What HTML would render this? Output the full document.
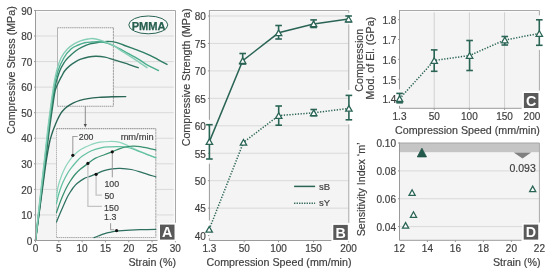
<!DOCTYPE html>
<html><head><meta charset="utf-8"><style>
html,body{margin:0;padding:0;background:#fff;width:550px;height:274px;overflow:hidden}
svg{display:block;will-change:transform}
text{font-family:"Liberation Sans",sans-serif}
text.t{stroke:#404040;stroke-width:0.18px}
</style></head><body>
<svg width="550" height="274" viewBox="0 0 550 274">
<rect width="550" height="274" fill="#fff"/>
<rect x="35.5" y="10.5" width="140.0" height="230.0" fill="#f4f4f4" />
<line x1="35.5" y1="214.94" x2="175.5" y2="214.94" stroke="#d9d9d9" stroke-width="1" />
<line x1="35.5" y1="189.38" x2="175.5" y2="189.38" stroke="#d9d9d9" stroke-width="1" />
<line x1="35.5" y1="163.82" x2="175.5" y2="163.82" stroke="#d9d9d9" stroke-width="1" />
<line x1="35.5" y1="138.26" x2="175.5" y2="138.26" stroke="#d9d9d9" stroke-width="1" />
<line x1="35.5" y1="112.7" x2="175.5" y2="112.7" stroke="#d9d9d9" stroke-width="1" />
<line x1="35.5" y1="87.13999999999999" x2="175.5" y2="87.13999999999999" stroke="#d9d9d9" stroke-width="1" />
<line x1="35.5" y1="61.579999999999984" x2="175.5" y2="61.579999999999984" stroke="#d9d9d9" stroke-width="1" />
<line x1="35.5" y1="36.01999999999998" x2="175.5" y2="36.01999999999998" stroke="#d9d9d9" stroke-width="1" />
<line x1="36.0" y1="11.7" x2="174.5" y2="11.7" stroke="#fbfbfb" stroke-width="1.2" />
<line x1="174.3" y1="11.5" x2="174.3" y2="222.5" stroke="#fbfbfb" stroke-width="1.2" />
<line x1="35.5" y1="10.5" x2="175.5" y2="10.5" stroke="#a8a8a8" stroke-width="1" />
<line x1="175.5" y1="10.5" x2="175.5" y2="222.8" stroke="#a8a8a8" stroke-width="1" />
<rect x="57.5" y="27.8" width="55.900000000000006" height="78.4" fill="#f7f7f7" />
<line x1="57.5" y1="27.8" x2="113.4" y2="27.8" stroke="#9c9c9c" stroke-width="1.1" stroke-dasharray="1.5,0.6"/>
<line x1="57.5" y1="106.2" x2="113.4" y2="106.2" stroke="#9c9c9c" stroke-width="1.1" stroke-dasharray="1.5,0.6"/>
<line x1="57.5" y1="27.8" x2="57.5" y2="106.2" stroke="#b4b4b4" stroke-width="1.0" />
<line x1="113.4" y1="27.8" x2="113.4" y2="106.2" stroke="#a0a0a0" stroke-width="1.0" stroke-dasharray="2.5,0.5"/>
<rect x="56.5" y="128.6" width="99.30000000000001" height="108.9" fill="#f8f8f8" />
<line x1="56.5" y1="128.6" x2="155.8" y2="128.6" stroke="#9c9c9c" stroke-width="1.1" stroke-dasharray="1.5,0.6"/>
<line x1="56.5" y1="237.5" x2="155.8" y2="237.5" stroke="#a8a8a8" stroke-width="1.0" stroke-dasharray="1.5,0.6"/>
<line x1="56.5" y1="128.6" x2="56.5" y2="237.5" stroke="#b4b4b4" stroke-width="1.0" stroke-dasharray="1.5,0.6"/>
<line x1="155.8" y1="128.6" x2="155.8" y2="237.5" stroke="#a8a8a8" stroke-width="1.0" stroke-dasharray="2.5,0.5"/>
<line x1="85.3" y1="106.3" x2="85.3" y2="124.5" stroke="#808080" stroke-width="0.9" />
<polygon points="83.7,124 86.9,124 85.3,127.6" fill="#505050"/>
<path d="M35.50,240.50 C36.52,232.92 39.78,208.42 41.60,195.00 C43.42,181.58 45.07,168.83 46.40,160.00 C47.73,151.17 48.63,146.50 49.60,142.00 C50.57,137.50 51.40,135.50 52.20,133.00 C53.00,130.50 53.55,129.17 54.40,127.00 C55.25,124.83 56.23,122.28 57.30,120.00 C58.37,117.72 59.68,115.05 60.80,113.30 C61.92,111.55 62.93,110.62 64.00,109.50 C65.07,108.38 65.62,107.70 67.20,106.60 C68.78,105.50 71.38,103.93 73.50,102.90 C75.62,101.87 77.48,101.12 79.90,100.40 C82.32,99.68 84.85,99.10 88.00,98.60 C91.15,98.10 94.80,97.70 98.80,97.40 C102.80,97.10 107.52,96.93 112.00,96.80 C116.48,96.67 123.42,96.63 125.70,96.60" fill="none" stroke="#2a6656" stroke-width="1.4" stroke-linecap="round" stroke-linejoin="round" />
<path d="M35.50,240.50 C36.47,232.92 39.63,208.42 41.30,195.00 C42.97,181.58 44.05,171.67 45.50,160.00 C46.95,148.33 48.78,134.08 50.00,125.00 C51.22,115.92 51.92,111.33 52.80,105.50 C53.68,99.67 54.32,93.92 55.30,90.00 C56.28,86.08 57.62,84.33 58.70,82.00 C59.78,79.67 60.78,77.87 61.80,76.00 C62.82,74.13 63.45,72.53 64.80,70.80 C66.15,69.07 68.13,67.08 69.90,65.60 C71.67,64.12 73.58,62.97 75.40,61.90 C77.22,60.83 78.62,60.02 80.80,59.20 C82.98,58.38 85.97,57.48 88.50,57.00 C91.03,56.52 93.25,56.28 96.00,56.30 C98.75,56.32 102.00,56.52 105.00,57.10 C108.00,57.68 110.67,58.78 114.00,59.80 C117.33,60.82 120.97,61.88 125.00,63.20 C129.03,64.52 136.00,66.95 138.20,67.70" fill="none" stroke="#2d705d" stroke-width="1.4" stroke-linecap="round" stroke-linejoin="round" />
<path d="M35.50,240.50 C36.42,232.92 39.38,208.42 41.00,195.00 C42.62,181.58 43.82,171.67 45.20,160.00 C46.58,148.33 47.78,136.67 49.30,125.00 C50.82,113.33 52.63,98.83 54.30,90.00 C55.97,81.17 57.60,76.67 59.30,72.00 C61.00,67.33 62.92,64.50 64.50,62.00 C66.08,59.50 66.95,58.83 68.80,57.00 C70.65,55.17 73.40,52.63 75.60,51.00 C77.80,49.37 79.60,48.38 82.00,47.20 C84.40,46.02 87.22,44.72 90.00,43.90 C92.78,43.08 95.73,42.72 98.70,42.30 C101.67,41.88 104.77,41.35 107.80,41.40 C110.83,41.45 114.10,41.92 116.90,42.60 C119.70,43.28 122.08,44.57 124.60,45.50 C127.12,46.43 129.57,47.30 132.00,48.20 C134.43,49.10 136.20,49.70 139.20,50.90 C142.20,52.10 146.87,53.95 150.00,55.40 C153.13,56.85 155.17,58.10 158.00,59.60 C160.83,61.10 165.50,63.60 167.00,64.40" fill="none" stroke="#2e7d65" stroke-width="1.4" stroke-linecap="round" stroke-linejoin="round" />
<path d="M35.50,240.50 C36.37,232.92 39.15,208.42 40.70,195.00 C42.25,181.58 43.45,171.67 44.80,160.00 C46.15,148.33 47.33,136.67 48.80,125.00 C50.27,113.33 52.13,98.83 53.60,90.00 C55.07,81.17 55.90,77.33 57.60,72.00 C59.30,66.67 61.57,61.83 63.80,58.00 C66.03,54.17 68.58,51.17 71.00,49.00 C73.42,46.83 76.00,46.05 78.30,45.00 C80.60,43.95 82.52,43.20 84.80,42.70 C87.08,42.20 89.68,42.15 92.00,42.00 C94.32,41.85 96.07,41.58 98.70,41.80 C101.33,42.02 104.77,42.38 107.80,43.30 C110.83,44.22 114.37,46.08 116.90,47.30 C119.43,48.52 120.98,49.52 123.00,50.60 C125.02,51.68 127.08,52.75 129.00,53.80 C130.92,54.85 132.68,55.83 134.50,56.90 C136.32,57.97 138.08,59.05 139.90,60.20 C141.72,61.35 143.38,62.60 145.40,63.80 C147.42,65.00 149.82,66.28 152.00,67.40 C154.18,68.52 157.42,69.98 158.50,70.50" fill="none" stroke="#4cae8f" stroke-width="1.4" stroke-linecap="round" stroke-linejoin="round" />
<path d="M35.50,240.50 C36.32,232.92 38.92,208.42 40.40,195.00 C41.88,181.58 43.08,171.67 44.40,160.00 C45.72,148.33 46.87,136.67 48.30,125.00 C49.73,113.33 51.65,98.83 53.00,90.00 C54.35,81.17 55.07,77.33 56.40,72.00 C57.73,66.67 59.17,61.83 61.00,58.00 C62.83,54.17 65.15,51.40 67.40,49.00 C69.65,46.60 72.20,45.00 74.50,43.60 C76.80,42.20 78.95,41.37 81.20,40.60 C83.45,39.83 85.85,39.32 88.00,39.00 C90.15,38.68 91.57,38.33 94.10,38.70 C96.63,39.07 100.15,40.18 103.20,41.20 C106.25,42.22 109.93,43.57 112.40,44.80 C114.87,46.03 116.15,47.37 118.00,48.60 C119.85,49.83 121.67,51.03 123.50,52.20 C125.33,53.37 127.17,54.45 129.00,55.60 C130.83,56.75 132.68,57.90 134.50,59.10 C136.32,60.30 137.82,61.37 139.90,62.80 C141.98,64.23 145.82,66.88 147.00,67.70" fill="none" stroke="#86ceb6" stroke-width="1.4" stroke-linecap="round" stroke-linejoin="round" />
<path d="M56.50,197.00 C56.72,195.50 57.22,190.83 57.80,188.00 C58.38,185.17 59.05,182.83 60.00,180.00 C60.95,177.17 62.25,173.75 63.50,171.00 C64.75,168.25 65.88,166.03 67.50,163.50 C69.12,160.97 71.12,158.05 73.20,155.80 C75.28,153.55 77.87,151.50 80.00,150.00 C82.13,148.50 84.08,147.72 86.00,146.80 C87.92,145.88 89.17,145.27 91.50,144.50 C93.83,143.73 96.92,142.70 100.00,142.20 C103.08,141.70 106.82,141.52 110.00,141.50 C113.18,141.48 116.07,141.38 119.10,142.10 C122.13,142.82 125.15,144.43 128.20,145.80 C131.25,147.17 134.35,148.93 137.40,150.30 C140.45,151.67 143.43,152.70 146.50,154.00 C149.57,155.30 154.25,157.42 155.80,158.10" fill="none" stroke="#8ed5bd" stroke-width="1.25" stroke-linecap="round" stroke-linejoin="round" />
<path d="M56.50,203.50 C56.83,202.08 57.68,197.92 58.50,195.00 C59.32,192.08 60.32,188.83 61.40,186.00 C62.48,183.17 63.73,180.50 65.00,178.00 C66.27,175.50 67.63,173.08 69.00,171.00 C70.37,168.92 71.70,167.33 73.20,165.50 C74.70,163.67 76.47,161.58 78.00,160.00 C79.53,158.42 80.15,157.53 82.40,156.00 C84.65,154.47 88.40,152.17 91.50,150.80 C94.60,149.43 97.92,148.45 101.00,147.80 C104.08,147.15 106.83,147.08 110.00,146.90 C113.17,146.72 117.00,146.60 120.00,146.70 C123.00,146.80 125.17,146.85 128.00,147.50 C130.83,148.15 133.92,149.47 137.00,150.60 C140.08,151.73 143.37,153.13 146.50,154.30 C149.63,155.47 154.25,157.05 155.80,157.60" fill="none" stroke="#62c1a1" stroke-width="1.25" stroke-linecap="round" stroke-linejoin="round" />
<path d="M56.50,212.50 C57.08,210.83 58.83,205.58 60.00,202.50 C61.17,199.42 62.45,196.42 63.50,194.00 C64.55,191.58 65.22,190.08 66.30,188.00 C67.38,185.92 68.55,183.75 70.00,181.50 C71.45,179.25 73.33,176.50 75.00,174.50 C76.67,172.50 77.85,171.32 80.00,169.50 C82.15,167.68 85.38,165.45 87.90,163.60 C90.42,161.75 92.25,159.92 95.10,158.40 C97.95,156.88 102.15,155.60 105.00,154.50 C107.85,153.40 109.70,152.78 112.20,151.80 C114.70,150.82 117.33,149.48 120.00,148.60 C122.67,147.72 125.87,146.90 128.20,146.50 C130.53,146.10 132.02,146.18 134.00,146.20 C135.98,146.22 137.77,146.27 140.10,146.60 C142.43,146.93 145.38,147.65 148.00,148.20 C150.62,148.75 154.50,149.62 155.80,149.90" fill="none" stroke="#38906f" stroke-width="1.25" stroke-linecap="round" stroke-linejoin="round" />
<path d="M56.50,222.00 C57.08,220.58 58.83,216.25 60.00,213.50 C61.17,210.75 62.32,208.17 63.50,205.50 C64.68,202.83 66.02,199.67 67.10,197.50 C68.18,195.33 69.02,194.08 70.00,192.50 C70.98,190.92 71.83,189.50 73.00,188.00 C74.17,186.50 75.17,185.07 77.00,183.50 C78.83,181.93 81.83,179.80 84.00,178.60 C86.17,177.40 88.00,177.08 90.00,176.30 C92.00,175.52 93.65,174.85 96.00,173.90 C98.35,172.95 101.42,171.45 104.10,170.60 C106.78,169.75 109.45,169.18 112.10,168.80 C114.75,168.42 116.78,168.18 120.00,168.30 C123.22,168.42 127.57,168.75 131.40,169.50 C135.23,170.25 138.93,171.57 143.00,172.80 C147.07,174.03 153.67,176.22 155.80,176.90" fill="none" stroke="#2d7060" stroke-width="1.25" stroke-linecap="round" stroke-linejoin="round" />
<path d="M94.00,237.60 C94.50,237.42 96.00,236.88 97.00,236.50 C98.00,236.12 98.83,235.73 100.00,235.30 C101.17,234.87 102.67,234.33 104.00,233.90 C105.33,233.47 106.67,233.05 108.00,232.70 C109.33,232.35 110.57,232.07 112.00,231.80 C113.43,231.53 114.93,231.30 116.60,231.10 C118.27,230.90 119.77,230.77 122.00,230.60 C124.23,230.43 127.00,230.25 130.00,230.10 C133.00,229.95 135.70,229.83 140.00,229.70 C144.30,229.57 153.17,229.37 155.80,229.30" fill="none" stroke="#2d7060" stroke-width="1.25" stroke-linecap="round" stroke-linejoin="round" />
<polyline points="72.8,155.3 72.8,136.5 77.6,136.5" fill="none" stroke="#a0a0a0" stroke-width="1.1"/>
<polyline points="87.9,163.4 87.9,206.4 101.9,206.4" fill="none" stroke="#c4c4c4" stroke-width="1.3"/>
<polyline points="96.1,174.3 96.1,195.2 101.9,195.2" fill="none" stroke="#c4c4c4" stroke-width="1.3"/>
<line x1="112.3" y1="151.8" x2="112.3" y2="177.3" stroke="#909090" stroke-width="0.9" />
<polyline points="110.6,223.2 110.6,229.8 114.2,229.8" fill="none" stroke="#909090" stroke-width="0.9"/>
<circle cx="72.8" cy="155.3" r="1.6" fill="#111"/>
<circle cx="87.9" cy="163.4" r="1.6" fill="#111"/>
<circle cx="96.1" cy="174.3" r="1.6" fill="#111"/>
<circle cx="112.3" cy="151.8" r="1.6" fill="#111"/>
<circle cx="116.6" cy="230.6" r="1.6" fill="#111"/>
<text class="t" x="78.8" y="140.0" font-size="8.8" text-anchor="start" fill="#404040" font-weight="normal" >200</text>
<text class="t" x="153.7" y="140.0" font-size="9.3" text-anchor="end" fill="#404040" font-weight="normal" >mm/min</text>
<text class="t" x="104.4" y="186.6" font-size="8.8" text-anchor="start" fill="#404040" font-weight="normal" >100</text>
<text class="t" x="104.4" y="198.6" font-size="8.8" text-anchor="start" fill="#404040" font-weight="normal" >50</text>
<text class="t" x="104.1" y="210.6" font-size="8.8" text-anchor="start" fill="#404040" font-weight="normal" >150</text>
<text class="t" x="104.1" y="220.3" font-size="8.8" text-anchor="start" fill="#404040" font-weight="normal" >1.3</text>
<ellipse cx="148.3" cy="24.9" rx="19.5" ry="8.9" fill="#f8f8f8" stroke="#2a6455" stroke-width="1"/>
<text x="148.6" y="29.9" font-size="11.1" text-anchor="middle" fill="#285f50" font-weight="bold" stroke="#285f50" stroke-width="0.25">PMMA</text>
<line x1="35.5" y1="10.0" x2="35.5" y2="240.5" stroke="#9a9a9a" stroke-width="1" />
<line x1="35.5" y1="240.5" x2="157.5" y2="240.5" stroke="#9a9a9a" stroke-width="1" />
<line x1="34.0" y1="240.5" x2="35.5" y2="240.5" stroke="#9a9a9a" stroke-width="1" />
<text class="t" x="32.3" y="244.7" font-size="10" text-anchor="end" fill="#404040" font-weight="normal" >0</text>
<line x1="34.0" y1="214.94" x2="35.5" y2="214.94" stroke="#9a9a9a" stroke-width="1" />
<text class="t" x="32.3" y="219.14" font-size="10" text-anchor="end" fill="#404040" font-weight="normal" >10</text>
<line x1="34.0" y1="189.38" x2="35.5" y2="189.38" stroke="#9a9a9a" stroke-width="1" />
<text class="t" x="32.3" y="193.57999999999998" font-size="10" text-anchor="end" fill="#404040" font-weight="normal" >20</text>
<line x1="34.0" y1="163.82" x2="35.5" y2="163.82" stroke="#9a9a9a" stroke-width="1" />
<text class="t" x="32.3" y="168.01999999999998" font-size="10" text-anchor="end" fill="#404040" font-weight="normal" >30</text>
<line x1="34.0" y1="138.26" x2="35.5" y2="138.26" stroke="#9a9a9a" stroke-width="1" />
<text class="t" x="32.3" y="142.45999999999998" font-size="10" text-anchor="end" fill="#404040" font-weight="normal" >40</text>
<line x1="34.0" y1="112.7" x2="35.5" y2="112.7" stroke="#9a9a9a" stroke-width="1" />
<text class="t" x="32.3" y="116.9" font-size="10" text-anchor="end" fill="#404040" font-weight="normal" >50</text>
<line x1="34.0" y1="87.13999999999999" x2="35.5" y2="87.13999999999999" stroke="#9a9a9a" stroke-width="1" />
<text class="t" x="32.3" y="91.33999999999999" font-size="10" text-anchor="end" fill="#404040" font-weight="normal" >60</text>
<line x1="34.0" y1="61.579999999999984" x2="35.5" y2="61.579999999999984" stroke="#9a9a9a" stroke-width="1" />
<text class="t" x="32.3" y="65.77999999999999" font-size="10" text-anchor="end" fill="#404040" font-weight="normal" >70</text>
<line x1="34.0" y1="36.01999999999998" x2="35.5" y2="36.01999999999998" stroke="#9a9a9a" stroke-width="1" />
<text class="t" x="32.3" y="40.219999999999985" font-size="10" text-anchor="end" fill="#404040" font-weight="normal" >80</text>
<line x1="34.0" y1="10.460000000000008" x2="35.5" y2="10.460000000000008" stroke="#9a9a9a" stroke-width="1" />
<text class="t" x="32.3" y="14.660000000000007" font-size="10" text-anchor="end" fill="#404040" font-weight="normal" >90</text>
<line x1="35.5" y1="240.5" x2="35.5" y2="242.3" stroke="#9a9a9a" stroke-width="1" />
<text class="t" x="35.5" y="251.8" font-size="10" text-anchor="middle" fill="#404040" font-weight="normal" >0</text>
<line x1="58.815" y1="240.5" x2="58.815" y2="242.3" stroke="#9a9a9a" stroke-width="1" />
<text class="t" x="58.815" y="251.8" font-size="10" text-anchor="middle" fill="#404040" font-weight="normal" >5</text>
<line x1="82.13" y1="240.5" x2="82.13" y2="242.3" stroke="#9a9a9a" stroke-width="1" />
<text class="t" x="82.13" y="251.8" font-size="10" text-anchor="middle" fill="#404040" font-weight="normal" >10</text>
<line x1="105.44500000000001" y1="240.5" x2="105.44500000000001" y2="242.3" stroke="#9a9a9a" stroke-width="1" />
<text class="t" x="105.44500000000001" y="251.8" font-size="10" text-anchor="middle" fill="#404040" font-weight="normal" >15</text>
<line x1="128.76" y1="240.5" x2="128.76" y2="242.3" stroke="#9a9a9a" stroke-width="1" />
<text class="t" x="128.76" y="251.8" font-size="10" text-anchor="middle" fill="#404040" font-weight="normal" >20</text>
<line x1="152.075" y1="240.5" x2="152.075" y2="242.3" stroke="#9a9a9a" stroke-width="1" />
<text class="t" x="152.075" y="251.8" font-size="10" text-anchor="middle" fill="#404040" font-weight="normal" >25</text>
<line x1="175.39000000000001" y1="240.5" x2="175.39000000000001" y2="242.3" stroke="#9a9a9a" stroke-width="1" />
<text class="t" x="175.39000000000001" y="251.8" font-size="10" text-anchor="middle" fill="#404040" font-weight="normal" >30</text>
<rect x="158.5" y="223.1" width="17.5" height="18" fill="#ffffff" />
<rect x="160" y="224.6" width="14.5" height="15" fill="#595959" />
<text x="167.25" y="237.2" font-size="14.3" text-anchor="middle" fill="#ffffff" font-weight="bold" >A</text>
<text class="t" x="176" y="266.4" font-size="10.7" text-anchor="end" fill="#404040" font-weight="normal" >Strain (%)</text>
<text class="t" x="0" y="0" font-size="10.7" text-anchor="middle" fill="#404040" font-weight="normal" transform="translate(15.2,70.1) rotate(-90)">Compressive Stress (MPa)</text>
<rect x="209.4" y="10.5" width="139.4" height="230.0" fill="#f4f4f4" />
<line x1="209.4" y1="208.15" x2="348.8" y2="208.15" stroke="#d9d9d9" stroke-width="1" />
<line x1="209.4" y1="180.70000000000002" x2="348.8" y2="180.70000000000002" stroke="#d9d9d9" stroke-width="1" />
<line x1="209.4" y1="153.25" x2="348.8" y2="153.25" stroke="#d9d9d9" stroke-width="1" />
<line x1="209.4" y1="125.80000000000001" x2="348.8" y2="125.80000000000001" stroke="#d9d9d9" stroke-width="1" />
<line x1="209.4" y1="98.35000000000001" x2="348.8" y2="98.35000000000001" stroke="#d9d9d9" stroke-width="1" />
<line x1="209.4" y1="70.9" x2="348.8" y2="70.9" stroke="#d9d9d9" stroke-width="1" />
<line x1="209.4" y1="43.45" x2="348.8" y2="43.45" stroke="#d9d9d9" stroke-width="1" />
<line x1="209.4" y1="16.0" x2="348.8" y2="16.0" stroke="#d9d9d9" stroke-width="1" />
<line x1="209.9" y1="11.7" x2="347.8" y2="11.7" stroke="#fbfbfb" stroke-width="1.2" />
<line x1="209.4" y1="10.5" x2="348.8" y2="10.5" stroke="#a8a8a8" stroke-width="1" />
<line x1="348.8" y1="10.5" x2="348.8" y2="12.9" stroke="#a8a8a8" stroke-width="1" />
<line x1="348.8" y1="24.4" x2="348.8" y2="90.0" stroke="#a8a8a8" stroke-width="1" />
<line x1="348.8" y1="124.4" x2="348.8" y2="222.8" stroke="#a8a8a8" stroke-width="1" />
<line x1="209.4" y1="10" x2="209.4" y2="119.8" stroke="#9a9a9a" stroke-width="1" />
<line x1="209.4" y1="163.7" x2="209.4" y2="220.5" stroke="#9a9a9a" stroke-width="1" />
<line x1="209.4" y1="238.2" x2="209.4" y2="240.5" stroke="#9a9a9a" stroke-width="1" />
<line x1="209.4" y1="240.5" x2="331.4" y2="240.5" stroke="#9a9a9a" stroke-width="1" />
<line x1="207.9" y1="235.60000000000002" x2="209.4" y2="235.60000000000002" stroke="#9a9a9a" stroke-width="1" />
<text class="t" x="205.9" y="239.90000000000003" font-size="10" text-anchor="end" fill="#404040" font-weight="normal" >40</text>
<line x1="207.9" y1="208.15" x2="209.4" y2="208.15" stroke="#9a9a9a" stroke-width="1" />
<text class="t" x="205.9" y="212.45000000000002" font-size="10" text-anchor="end" fill="#404040" font-weight="normal" >45</text>
<line x1="207.9" y1="180.70000000000002" x2="209.4" y2="180.70000000000002" stroke="#9a9a9a" stroke-width="1" />
<text class="t" x="205.9" y="185.00000000000003" font-size="10" text-anchor="end" fill="#404040" font-weight="normal" >50</text>
<line x1="207.9" y1="153.25" x2="209.4" y2="153.25" stroke="#9a9a9a" stroke-width="1" />
<text class="t" x="205.9" y="157.55" font-size="10" text-anchor="end" fill="#404040" font-weight="normal" >55</text>
<line x1="207.9" y1="125.80000000000001" x2="209.4" y2="125.80000000000001" stroke="#9a9a9a" stroke-width="1" />
<text class="t" x="205.9" y="130.10000000000002" font-size="10" text-anchor="end" fill="#404040" font-weight="normal" >60</text>
<line x1="207.9" y1="98.35000000000001" x2="209.4" y2="98.35000000000001" stroke="#9a9a9a" stroke-width="1" />
<text class="t" x="205.9" y="102.65" font-size="10" text-anchor="end" fill="#404040" font-weight="normal" >65</text>
<line x1="207.9" y1="70.9" x2="209.4" y2="70.9" stroke="#9a9a9a" stroke-width="1" />
<text class="t" x="205.9" y="75.2" font-size="10" text-anchor="end" fill="#404040" font-weight="normal" >70</text>
<line x1="207.9" y1="43.45" x2="209.4" y2="43.45" stroke="#9a9a9a" stroke-width="1" />
<text class="t" x="205.9" y="47.75" font-size="10" text-anchor="end" fill="#404040" font-weight="normal" >75</text>
<line x1="207.9" y1="16.0" x2="209.4" y2="16.0" stroke="#9a9a9a" stroke-width="1" />
<text class="t" x="205.9" y="20.3" font-size="10" text-anchor="end" fill="#404040" font-weight="normal" >80</text>
<text class="t" x="209.4" y="251.6" font-size="10" text-anchor="middle" fill="#404040" font-weight="normal" >1.3</text>
<line x1="244.2" y1="240.5" x2="244.2" y2="242.3" stroke="#9a9a9a" stroke-width="1" />
<text class="t" x="244.2" y="251.6" font-size="10" text-anchor="middle" fill="#404040" font-weight="normal" >50</text>
<line x1="278.5" y1="240.5" x2="278.5" y2="242.3" stroke="#9a9a9a" stroke-width="1" />
<text class="t" x="278.5" y="251.6" font-size="10" text-anchor="middle" fill="#404040" font-weight="normal" >100</text>
<line x1="313.6" y1="240.5" x2="313.6" y2="242.3" stroke="#9a9a9a" stroke-width="1" />
<text class="t" x="313.6" y="251.6" font-size="10" text-anchor="middle" fill="#404040" font-weight="normal" >150</text>
<line x1="348.6" y1="240.5" x2="348.6" y2="242.3" stroke="#9a9a9a" stroke-width="1" />
<text class="t" x="348.6" y="251.6" font-size="10" text-anchor="middle" fill="#404040" font-weight="normal" >200</text>
<text class="t" x="0" y="0" font-size="10.7" text-anchor="middle" fill="#404040" font-weight="normal" transform="translate(189.6,77.4) rotate(-90)">Compressive Strength (MPa)</text>
<text class="t" x="279" y="266.4" font-size="10.7" text-anchor="middle" fill="#404040" font-weight="normal" >Compression Speed (mm/min)</text>
<polyline points="209.4,141.6 242.7,60.7 278.6,32.8 313.6,23.9 348.6,19.0" fill="none" stroke="#2a6455" stroke-width="1.5"/>
<polyline points="209.2,229.3 243.5,142.3 278.7,115.6 313.7,112.8 348.9,108.4" fill="none" stroke="#2a6455" stroke-width="1.5" stroke-dasharray="1.3,1.5"/>
<line x1="209.4" y1="124.7" x2="209.4" y2="159.0" stroke="#2a6455" stroke-width="1.6" />
<line x1="206.1" y1="124.7" x2="212.70000000000002" y2="124.7" stroke="#2a6455" stroke-width="1.6" />
<line x1="206.1" y1="159.0" x2="212.70000000000002" y2="159.0" stroke="#2a6455" stroke-width="1.6" />
<polygon points="209.40,138.80 212.60,144.40 206.20,144.40" fill="#ffffff" stroke="#2a6455" stroke-width="1.3" stroke-linejoin="miter"/>
<line x1="242.7" y1="53.5" x2="242.7" y2="64.0" stroke="#2a6455" stroke-width="1.6" />
<line x1="239.39999999999998" y1="53.5" x2="246.0" y2="53.5" stroke="#2a6455" stroke-width="1.6" />
<line x1="239.39999999999998" y1="64.0" x2="246.0" y2="64.0" stroke="#2a6455" stroke-width="1.6" />
<polygon points="242.70,57.90 245.90,63.50 239.50,63.50" fill="#ffffff" stroke="#2a6455" stroke-width="1.3" stroke-linejoin="miter"/>
<line x1="278.6" y1="25.5" x2="278.6" y2="39.0" stroke="#2a6455" stroke-width="1.6" />
<line x1="275.3" y1="25.5" x2="281.90000000000003" y2="25.5" stroke="#2a6455" stroke-width="1.6" />
<line x1="275.3" y1="39.0" x2="281.90000000000003" y2="39.0" stroke="#2a6455" stroke-width="1.6" />
<polygon points="278.60,30.00 281.80,35.60 275.40,35.60" fill="#ffffff" stroke="#2a6455" stroke-width="1.3" stroke-linejoin="miter"/>
<line x1="313.6" y1="19.9" x2="313.6" y2="27.5" stroke="#2a6455" stroke-width="1.6" />
<line x1="310.3" y1="19.9" x2="316.90000000000003" y2="19.9" stroke="#2a6455" stroke-width="1.6" />
<line x1="310.3" y1="27.5" x2="316.90000000000003" y2="27.5" stroke="#2a6455" stroke-width="1.6" />
<polygon points="313.60,21.10 316.80,26.70 310.40,26.70" fill="#ffffff" stroke="#2a6455" stroke-width="1.3" stroke-linejoin="miter"/>
<line x1="348.6" y1="16.0" x2="348.6" y2="21.9" stroke="#2a6455" stroke-width="1.6" />
<line x1="345.3" y1="16.0" x2="351.90000000000003" y2="16.0" stroke="#2a6455" stroke-width="1.6" />
<line x1="345.3" y1="21.9" x2="351.90000000000003" y2="21.9" stroke="#2a6455" stroke-width="1.6" />
<polygon points="348.60,16.20 351.80,21.80 345.40,21.80" fill="#ffffff" stroke="#2a6455" stroke-width="1.3" stroke-linejoin="miter"/>
<polygon points="209.20,226.50 212.40,232.10 206.00,232.10" fill="#ffffff" stroke="#2a6455" stroke-width="1.3" stroke-linejoin="miter"/>
<polygon points="243.50,139.50 246.70,145.10 240.30,145.10" fill="#ffffff" stroke="#2a6455" stroke-width="1.3" stroke-linejoin="miter"/>
<line x1="278.7" y1="106.0" x2="278.7" y2="125.2" stroke="#2a6455" stroke-width="1.6" />
<line x1="275.4" y1="106.0" x2="282.0" y2="106.0" stroke="#2a6455" stroke-width="1.6" />
<line x1="275.4" y1="125.2" x2="282.0" y2="125.2" stroke="#2a6455" stroke-width="1.6" />
<polygon points="278.70,112.80 281.90,118.40 275.50,118.40" fill="#ffffff" stroke="#2a6455" stroke-width="1.3" stroke-linejoin="miter"/>
<line x1="313.7" y1="109.5" x2="313.7" y2="115.8" stroke="#2a6455" stroke-width="1.6" />
<line x1="310.4" y1="109.5" x2="317.0" y2="109.5" stroke="#2a6455" stroke-width="1.6" />
<line x1="310.4" y1="115.8" x2="317.0" y2="115.8" stroke="#2a6455" stroke-width="1.6" />
<polygon points="313.70,110.00 316.90,115.60 310.50,115.60" fill="#ffffff" stroke="#2a6455" stroke-width="1.3" stroke-linejoin="miter"/>
<line x1="348.9" y1="95.4" x2="348.9" y2="119.8" stroke="#2a6455" stroke-width="1.6" />
<line x1="345.59999999999997" y1="95.4" x2="352.2" y2="95.4" stroke="#2a6455" stroke-width="1.6" />
<line x1="345.59999999999997" y1="119.8" x2="352.2" y2="119.8" stroke="#2a6455" stroke-width="1.6" />
<polygon points="348.90,105.60 352.10,111.20 345.70,111.20" fill="#ffffff" stroke="#2a6455" stroke-width="1.3" stroke-linejoin="miter"/>
<line x1="294.1" y1="186.4" x2="315.1" y2="186.4" stroke="#2a6455" stroke-width="1.5" />
<text class="t" x="319.0" y="189.6" font-size="9.5" text-anchor="start" fill="#404040" font-weight="normal" >sB</text>
<line x1="294.1" y1="203.2" x2="315.1" y2="203.2" stroke="#2a6455" stroke-width="1.5" stroke-dasharray="1.3,1.2"/>
<text class="t" x="319.0" y="206.4" font-size="9.5" text-anchor="start" fill="#404040" font-weight="normal" >sY</text>
<rect x="331.8" y="223.4" width="17.5" height="18" fill="#ffffff" />
<rect x="333.3" y="224.9" width="14.5" height="15" fill="#595959" />
<text x="340.55" y="237.5" font-size="14.3" text-anchor="middle" fill="#ffffff" font-weight="bold" >B</text>
<rect x="399.5" y="10.5" width="139.89999999999998" height="97.8" fill="#f4f4f4" />
<line x1="434.2" y1="10.5" x2="434.2" y2="108.3" stroke="#d0d0d0" stroke-width="1" />
<line x1="469.4" y1="10.5" x2="469.4" y2="108.3" stroke="#d0d0d0" stroke-width="1" />
<line x1="504.6" y1="10.5" x2="504.6" y2="108.3" stroke="#d0d0d0" stroke-width="1" />
<line x1="400.0" y1="11.7" x2="538.4" y2="11.7" stroke="#fbfbfb" stroke-width="1.2" />
<line x1="399.5" y1="10.5" x2="539.4" y2="10.5" stroke="#a8a8a8" stroke-width="1" />
<line x1="539.4" y1="10.5" x2="539.4" y2="15.4" stroke="#a8a8a8" stroke-width="1" />
<line x1="539.4" y1="49.9" x2="539.4" y2="90.5" stroke="#a8a8a8" stroke-width="1" />
<line x1="399.5" y1="10" x2="399.5" y2="89.5" stroke="#9a9a9a" stroke-width="1" />
<line x1="399.5" y1="105.9" x2="399.5" y2="108.3" stroke="#9a9a9a" stroke-width="1" />
<line x1="399.5" y1="108.3" x2="521.5" y2="108.3" stroke="#9a9a9a" stroke-width="1" />
<line x1="398.0" y1="99.08000000000001" x2="399.5" y2="99.08000000000001" stroke="#9a9a9a" stroke-width="1" />
<text class="t" x="396.4" y="103.48000000000002" font-size="10" text-anchor="end" fill="#404040" font-weight="normal" >1.4</text>
<line x1="398.0" y1="79.21000000000001" x2="399.5" y2="79.21000000000001" stroke="#9a9a9a" stroke-width="1" />
<text class="t" x="396.4" y="83.61000000000001" font-size="10" text-anchor="end" fill="#404040" font-weight="normal" >1.5</text>
<line x1="398.0" y1="59.33999999999999" x2="399.5" y2="59.33999999999999" stroke="#9a9a9a" stroke-width="1" />
<text class="t" x="396.4" y="63.73999999999999" font-size="10" text-anchor="end" fill="#404040" font-weight="normal" >1.6</text>
<line x1="398.0" y1="39.47000000000001" x2="399.5" y2="39.47000000000001" stroke="#9a9a9a" stroke-width="1" />
<text class="t" x="396.4" y="43.87000000000001" font-size="10" text-anchor="end" fill="#404040" font-weight="normal" >1.7</text>
<line x1="398.0" y1="19.6" x2="399.5" y2="19.6" stroke="#9a9a9a" stroke-width="1" />
<text class="t" x="396.4" y="24.0" font-size="10" text-anchor="end" fill="#404040" font-weight="normal" >1.8</text>
<text class="t" x="399.5" y="119.6" font-size="10" text-anchor="middle" fill="#404040" font-weight="normal" >1.3</text>
<line x1="434.2" y1="108.3" x2="434.2" y2="110" stroke="#9a9a9a" stroke-width="1" />
<text class="t" x="434.2" y="119.6" font-size="10" text-anchor="middle" fill="#404040" font-weight="normal" >50</text>
<line x1="469.4" y1="108.3" x2="469.4" y2="110" stroke="#9a9a9a" stroke-width="1" />
<text class="t" x="469.4" y="119.6" font-size="10" text-anchor="middle" fill="#404040" font-weight="normal" >100</text>
<line x1="504.6" y1="108.3" x2="504.6" y2="110" stroke="#9a9a9a" stroke-width="1" />
<text class="t" x="504.6" y="119.6" font-size="10" text-anchor="middle" fill="#404040" font-weight="normal" >150</text>
<text class="t" x="540.3" y="119.6" font-size="10" text-anchor="end" fill="#404040" font-weight="normal" >200</text>
<text class="t" x="539.9" y="133.7" font-size="10.7" text-anchor="end" fill="#404040" font-weight="normal" >Compression Speed (mm/min)</text>
<text class="t" x="0" y="0" font-size="10.7" text-anchor="middle" fill="#404040" font-weight="normal" transform="translate(363.2,60.3) rotate(-90)">Compression</text>
<text class="t" x="0" y="0" font-size="10.7" text-anchor="middle" fill="#404040" font-weight="normal" transform="translate(373.9,58.1) rotate(-90)">Mod. of El. (GPa)</text>
<polyline points="399.6,98.7 434.2,60.5 469.6,55.5 504.8,40.0 539.3,33.5" fill="none" stroke="#2a6455" stroke-width="1.5" stroke-dasharray="1.3,1.5"/>
<line x1="399.6" y1="93.4" x2="399.6" y2="102.8" stroke="#2a6455" stroke-width="1.6" />
<line x1="396.3" y1="93.4" x2="402.90000000000003" y2="93.4" stroke="#2a6455" stroke-width="1.6" />
<line x1="396.3" y1="102.8" x2="402.90000000000003" y2="102.8" stroke="#2a6455" stroke-width="1.6" />
<polygon points="399.60,95.90 402.80,101.50 396.40,101.50" fill="#ffffff" stroke="#2a6455" stroke-width="1.3" stroke-linejoin="miter"/>
<line x1="434.2" y1="49.9" x2="434.2" y2="71.3" stroke="#2a6455" stroke-width="1.6" />
<line x1="430.9" y1="49.9" x2="437.5" y2="49.9" stroke="#2a6455" stroke-width="1.6" />
<line x1="430.9" y1="71.3" x2="437.5" y2="71.3" stroke="#2a6455" stroke-width="1.6" />
<polygon points="434.20,57.70 437.40,63.30 431.00,63.30" fill="#ffffff" stroke="#2a6455" stroke-width="1.3" stroke-linejoin="miter"/>
<line x1="469.6" y1="40.5" x2="469.6" y2="70.5" stroke="#2a6455" stroke-width="1.6" />
<line x1="466.3" y1="40.5" x2="472.90000000000003" y2="40.5" stroke="#2a6455" stroke-width="1.6" />
<line x1="466.3" y1="70.5" x2="472.90000000000003" y2="70.5" stroke="#2a6455" stroke-width="1.6" />
<polygon points="469.60,52.70 472.80,58.30 466.40,58.30" fill="#ffffff" stroke="#2a6455" stroke-width="1.3" stroke-linejoin="miter"/>
<line x1="504.8" y1="36.5" x2="504.8" y2="45.0" stroke="#2a6455" stroke-width="1.6" />
<line x1="501.5" y1="36.5" x2="508.1" y2="36.5" stroke="#2a6455" stroke-width="1.6" />
<line x1="501.5" y1="45.0" x2="508.1" y2="45.0" stroke="#2a6455" stroke-width="1.6" />
<polygon points="504.80,37.20 508.00,42.80 501.60,42.80" fill="#ffffff" stroke="#2a6455" stroke-width="1.3" stroke-linejoin="miter"/>
<line x1="539.3" y1="19.8" x2="539.3" y2="45.3" stroke="#2a6455" stroke-width="1.6" />
<line x1="536.0" y1="19.8" x2="542.5999999999999" y2="19.8" stroke="#2a6455" stroke-width="1.6" />
<line x1="536.0" y1="45.3" x2="542.5999999999999" y2="45.3" stroke="#2a6455" stroke-width="1.6" />
<polygon points="539.30,30.70 542.50,36.30 536.10,36.30" fill="#ffffff" stroke="#2a6455" stroke-width="1.3" stroke-linejoin="miter"/>
<rect x="522.4" y="91.5" width="17.5" height="18" fill="#ffffff" />
<rect x="523.9" y="93.0" width="14.5" height="15" fill="#595959" />
<text x="531.15" y="105.6" font-size="14.3" text-anchor="middle" fill="#ffffff" font-weight="bold" >C</text>
<rect x="399.5" y="143" width="139.89999999999998" height="97.30000000000001" fill="#f4f4f4" />
<line x1="399.5" y1="226.58" x2="539.4" y2="226.58" stroke="#d9d9d9" stroke-width="1" />
<line x1="399.5" y1="198.72000000000003" x2="539.4" y2="198.72000000000003" stroke="#d9d9d9" stroke-width="1" />
<line x1="399.5" y1="170.86" x2="539.4" y2="170.86" stroke="#d9d9d9" stroke-width="1" />
<rect x="399.5" y="143" width="139.89999999999998" height="9.199999999999989" fill="#c5c5c5" />
<line x1="399.5" y1="143" x2="539.4" y2="143" stroke="#a6a6a6" stroke-width="1" />
<line x1="539.4" y1="143" x2="539.4" y2="222.5" stroke="#a8a8a8" stroke-width="1" />
<line x1="399.5" y1="142.5" x2="399.5" y2="240.3" stroke="#9a9a9a" stroke-width="1" />
<line x1="399.5" y1="240.3" x2="521.5" y2="240.3" stroke="#9a9a9a" stroke-width="1" />
<line x1="398.0" y1="226.58" x2="399.5" y2="226.58" stroke="#9a9a9a" stroke-width="1" />
<text class="t" x="396.0" y="230.58" font-size="10" text-anchor="end" fill="#404040" font-weight="normal" >0.04</text>
<line x1="398.0" y1="198.72000000000003" x2="399.5" y2="198.72000000000003" stroke="#9a9a9a" stroke-width="1" />
<text class="t" x="396.0" y="202.72000000000003" font-size="10" text-anchor="end" fill="#404040" font-weight="normal" >0.06</text>
<line x1="398.0" y1="170.86" x2="399.5" y2="170.86" stroke="#9a9a9a" stroke-width="1" />
<text class="t" x="396.0" y="174.86" font-size="10" text-anchor="end" fill="#404040" font-weight="normal" >0.08</text>
<line x1="398.0" y1="143.0" x2="399.5" y2="143.0" stroke="#9a9a9a" stroke-width="1" />
<text class="t" x="396.0" y="147.0" font-size="10" text-anchor="end" fill="#404040" font-weight="normal" >0.10</text>
<text class="t" x="399.4" y="251.7" font-size="10" text-anchor="middle" fill="#404040" font-weight="normal" >12</text>
<line x1="427.4" y1="240.3" x2="427.4" y2="242" stroke="#9a9a9a" stroke-width="1" />
<text class="t" x="427.4" y="251.7" font-size="10" text-anchor="middle" fill="#404040" font-weight="normal" >14</text>
<line x1="455.4" y1="240.3" x2="455.4" y2="242" stroke="#9a9a9a" stroke-width="1" />
<text class="t" x="455.4" y="251.7" font-size="10" text-anchor="middle" fill="#404040" font-weight="normal" >16</text>
<line x1="483.4" y1="240.3" x2="483.4" y2="242" stroke="#9a9a9a" stroke-width="1" />
<text class="t" x="483.4" y="251.7" font-size="10" text-anchor="middle" fill="#404040" font-weight="normal" >18</text>
<line x1="511.4" y1="240.3" x2="511.4" y2="242" stroke="#9a9a9a" stroke-width="1" />
<text class="t" x="511.4" y="251.7" font-size="10" text-anchor="middle" fill="#404040" font-weight="normal" >20</text>
<text class="t" x="539.4" y="251.7" font-size="10" text-anchor="middle" fill="#404040" font-weight="normal" >22</text>
<text class="t" x="540.5" y="266.4" font-size="10.7" text-anchor="end" fill="#404040" font-weight="normal" >Strain (%)</text>
<text class="t" x="0" y="0" font-size="10.7" text-anchor="middle" fill="#404040" font-weight="normal" transform="translate(365.4,189.4) rotate(-90)">Sensitivity Index ‘m’</text>
<polygon points="421.9,148.2 426.5,156.9 417.3,156.9" fill="#235a4b" stroke="#1f5244" stroke-width="0.8" stroke-linejoin="miter"/>
<polygon points="513.7,152.6 531.2,152.6 522.5,158.6" fill="#808080"/>
<rect x="509.8" y="163.2" width="26" height="9.5" fill="#f4f4f4" />
<text class="t" x="522.6" y="171.6" font-size="10.5" text-anchor="middle" fill="#404040" font-weight="normal" >0.093</text>
<polygon points="412.10,189.80 415.20,195.40 409.00,195.40" fill="#ffffff" stroke="#2a6455" stroke-width="1.25" stroke-linejoin="miter"/>
<polygon points="413.50,211.80 416.60,217.40 410.40,217.40" fill="#ffffff" stroke="#2a6455" stroke-width="1.25" stroke-linejoin="miter"/>
<polygon points="405.60,222.60 408.70,228.20 402.50,228.20" fill="#ffffff" stroke="#2a6455" stroke-width="1.25" stroke-linejoin="miter"/>
<polygon points="532.70,186.10 535.80,191.70 529.60,191.70" fill="#ffffff" stroke="#2a6455" stroke-width="1.25" stroke-linejoin="miter"/>
<rect x="522.2" y="223.1" width="17.5" height="18" fill="#ffffff" />
<rect x="523.7" y="224.6" width="14.5" height="15" fill="#595959" />
<text x="530.95" y="237.2" font-size="14.3" text-anchor="middle" fill="#ffffff" font-weight="bold" >D</text>
</svg>
</body></html>
